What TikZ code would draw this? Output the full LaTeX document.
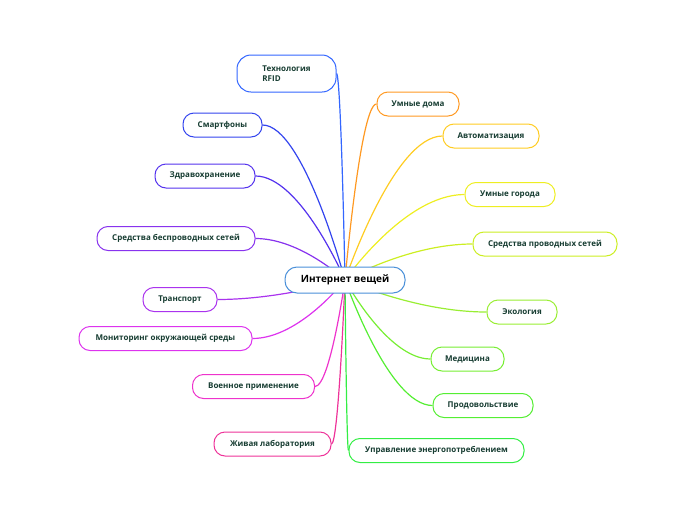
\documentclass[tikz,border=0pt]{standalone}
\usepackage{fontspec}
\setmainfont{Open Sans}
\usetikzlibrary{backgrounds}

\definecolor{txt}{HTML}{173D32}
\definecolor{cmain}{HTML}{4A90D9}
\definecolor{crfid}{HTML}{3366FF}
\definecolor{csmart}{HTML}{3344EE}
\definecolor{chealth}{HTML}{5533EE}
\definecolor{cwireless}{HTML}{8833EE}
\definecolor{ctransport}{HTML}{AA33EE}
\definecolor{cmonitor}{HTML}{DD33EE}
\definecolor{cmilitary}{HTML}{EE33CC}
\definecolor{clab}{HTML}{EE3399}
\definecolor{chome}{HTML}{FF9922}
\definecolor{cauto}{HTML}{FFCC22}
\definecolor{ccity}{HTML}{EEEE22}
\definecolor{cwired}{HTML}{CCEE22}
\definecolor{ceco}{HTML}{99EE33}
\definecolor{cmed}{HTML}{77EE33}
\definecolor{cfood}{HTML}{55EE33}
\definecolor{cenergy}{HTML}{33EE44}

\begin{document}
\begin{tikzpicture}[x=1pt,y=-1pt,
	topic/.style={draw=#1,line width=1pt,fill=white,rounded corners=11pt,
		minimum height=24pt,inner sep=0pt,text=txt,
		font=\bfseries\fontsize{8}{10}\selectfont},
	branch/.style={draw=#1,line width=1.2pt}]
	
	\useasboundingbox (0,0) rectangle (697,520);
	
	\node[draw=cmain,line width=1pt,fill=white,rounded corners=12pt,
	minimum width=120pt,minimum height=26pt,inner sep=0pt,
	font=\bfseries\fontsize{10}{12}\selectfont](iot) at (345,280){Интернет вещей};
	
	% left side
	\node[topic=crfid,minimum width=99pt,minimum height=37pt,rounded corners=14pt,
	align=left](rfid) at (286.5,73.5){Технология\\RFID};
	\node[topic=csmart,minimum width=79pt](smart) at (222.5,125){Смартфоны};
	\node[topic=chealth,minimum width=100pt](health) at (205,176){Здравохранение};
	\node[topic=cwireless,minimum width=158pt](wireless) at (176,238.5){Средства беспроводных сетей};
	\node[topic=ctransport,minimum width=74pt](transport) at (180,299.5){Транспорт};
	\node[topic=cmonitor,minimum width=173pt](monitor) at (165.5,338.5){Мониторинг окружающей среды};
	\node[topic=cmilitary,minimum width=122pt](military) at (253.5,386.5){Военное применение};
	\node[topic=clab,minimum width=117pt](lab) at (272.5,444){Живая лаборатория};
	
	% right side
	\node[topic=chome,minimum width=82pt](home) at (418,104){Умные дома};
	\node[topic=cauto,minimum width=96pt](auto) at (491,136){Автоматизация};
	\node[topic=ccity,minimum width=90pt](city) at (510,194.5){Умные города};
	\node[topic=cwired,minimum width=144pt](wired) at (545,244){Средства проводных сетей};
	\node[topic=ceco,minimum width=70pt](eco) at (522,312){Экология};
	\node[topic=cmed,minimum width=73pt](med) at (467.5,359){Медицина};
	\node[topic=cfood,minimum width=100pt](food) at (483,405.5){Продовольствие};
	\node[topic=cenergy,minimum width=175pt](energy) at (436.5,450.5){Управление энергопотреблением};
	
	\begin{scope}[on background layer]
	\draw[branch=crfid](rfid.east) .. controls +(4.5,0) and (iot.center) .. (iot.center);
	\draw[branch=csmart](smart.east) .. controls +(41,0) and (iot.center) .. (iot.center);
	\draw[branch=chealth](health.east) .. controls +(45,0) and (iot.center) .. (iot.center);
	\draw[branch=cwireless](wireless.east) .. controls +(45,0) and (iot.center) .. (iot.center);
	\draw[branch=ctransport](transport.east) .. controls +(64,0) and (iot.center) .. (iot.center);
	\draw[branch=cmonitor](monitor.east) .. controls +(47,0) and (iot.center) .. (iot.center);
	\draw[branch=cmilitary](military.east) .. controls +(15,0) and (iot.center) .. (iot.center);
	\draw[branch=clab](lab.east) .. controls +(7,0) and (iot.center) .. (iot.center);
	
	\draw[branch=chome](home.west) .. controls +(-16,0) and (iot.center) .. (iot.center);
	\draw[branch=cauto](auto.west) .. controls +(-49,0) and (iot.center) .. (iot.center);
	\draw[branch=ccity](city.west) .. controls +(-60,0) and (iot.center) .. (iot.center);
	\draw[branch=cwired](wired.west) .. controls +(-64,0) and (iot.center) .. (iot.center);
	\draw[branch=ceco](eco.west) .. controls +(-71,0) and (iot.center) .. (iot.center);
	\draw[branch=cmed](med.west) .. controls +(-43,0) and (iot.center) .. (iot.center);
	\draw[branch=cfood](food.west) .. controls +(-44,0) and (iot.center) .. (iot.center);
	\draw[branch=cenergy](energy.west) .. controls +(-2,0) and (iot.center) .. (iot.center);
	\end{scope}
	
\end{tikzpicture}
\end{document}
